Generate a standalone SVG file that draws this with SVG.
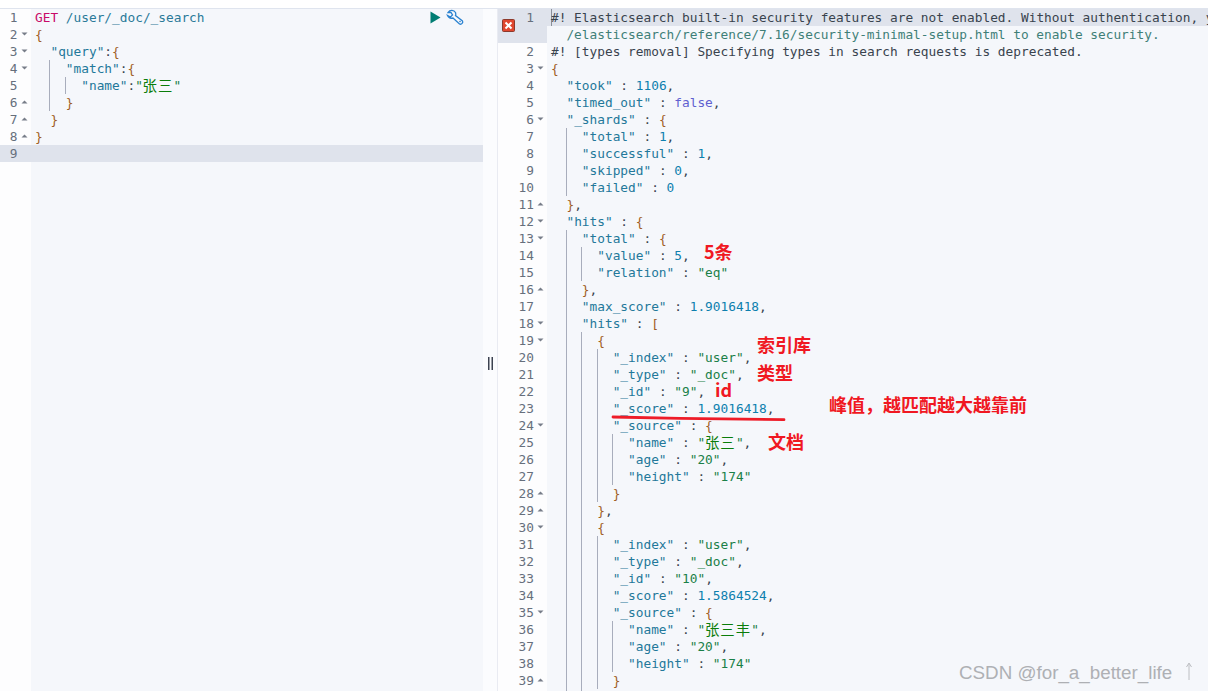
<svg xmlns="http://www.w3.org/2000/svg" width="1208" height="691" viewBox="0 0 1208 691">
<style>
text{white-space:pre}
.c{font-family:"DejaVu Sans Mono","Liberation Mono",monospace;font-size:12.8px;fill:#39434e}
.g{font-family:"DejaVu Sans Mono","Liberation Mono",monospace;font-size:12.8px;fill:#666f7c;text-anchor:end}
.k{fill:#23789a}.s{fill:#1a8048}.n{fill:#0d7fae}.f{fill:#6060d0}.b{fill:#a05e25}.m{fill:#c80a68}.u{fill:#2a7a99}
.z{font-family:"Noto Sans CJK SC",sans-serif;letter-spacing:1px;fill:#0a7d0a;font-size:14.4px}
.i{stroke:#a8adbc;stroke-width:1;fill:none}
.a{font-family:"Noto Sans CJK SC","Liberation Sans",sans-serif;font-weight:700;fill:#f01822;font-size:18px}
.w{font-family:"Liberation Sans",Arial,sans-serif;font-size:18.800px;fill:#aeb0b4}
</style>
<defs>
<path id="dn" d="M-3-1.500H3L0 1.500Z" fill="#777d88"/>
<path id="up" d="M-3 1.500H3L0-1.500Z" fill="#777d88"/>
</defs>
<rect width="1208" height="691" fill="#fff"/>
<g id="left-editor">
<rect y="8" width="483" height="683" fill="#f5f7fb"/>
<rect y="8" width="31" height="683" fill="#fdfdfe"/>
<rect x="483" y="8" width="15" height="683" fill="#fbfcfe"/>
<rect x="497" y="8" width="1" height="683" fill="#e9ebf2"/>
<rect y="8" width="1208" height="1" fill="#dfe4ee"/>
<rect y="145" width="483" height="17" fill="#dfe3ec"/>
<g transform="translate(0,0.600)">
<text class="g" x="17.500" y="21">1</text><text class="g" x="17.500" y="38">2</text><text class="g" x="17.500" y="55">3</text><text class="g" x="17.500" y="72">4</text><text class="g" x="17.500" y="89">5</text><text class="g" x="17.500" y="106">6</text><text class="g" x="17.500" y="123">7</text><text class="g" x="17.500" y="140">8</text><text class="g" x="17.500" y="157">9</text>
<text class="c" x="35" y="21"><tspan class="m">GET</tspan> <tspan class="u">/user/_doc/_search</tspan></text>
<text class="c" x="35" y="38"><tspan class="b">{</tspan></text>
<text class="c" x="35" y="55">  <tspan class="k">"query"</tspan>:<tspan class="b">{</tspan></text>
<text class="c" x="35" y="72">    <tspan class="k">"match"</tspan>:<tspan class="b">{</tspan></text>
<text class="c" x="35" y="89">      <tspan class="k">"name"</tspan>:<tspan class="s">"</tspan></text>
<text class="z" x="142.600" y="90">张三</text>
<text class="c" x="173.600" y="89"><tspan class="s">"</tspan></text>
<text class="c" x="35" y="106">    <tspan class="b">}</tspan></text>
<text class="c" x="35" y="123">  <tspan class="b">}</tspan></text>
<text class="c" x="35" y="140"><tspan class="b">}</tspan></text>
</g>
<use href="#dn" x="24.500" y="34"/><use href="#dn" x="24.500" y="51"/><use href="#dn" x="24.500" y="68"/><use href="#up" x="24.500" y="102"/><use href="#up" x="24.500" y="119"/><use href="#up" x="24.500" y="136"/>
<path class="i" d="M49.500 60V111M65.500 77V94"/>
</g>
<g id="toolbar">
<path d="M430.500 11.500L440.500 17.500L430.500 23.500Z" fill="#017d73"/>
<path d="M448 12.500C450 9.500 454 10 455.500 12.500C456 14 455.800 15 455.500 15.500L462.500 21C463.500 22.500 461.500 25 459.500 24L453 18C451 18.500 448.500 17.800 447.500 15.500L450.500 17L452.500 15L451 12.500Z" fill="none" stroke="#2a82d0" stroke-width="1.300"/>
<circle cx="460" cy="21.500" r="0.800" fill="#2a82d0"/>
</g>
<g id="divider">
<rect x="488" y="357" width="1.500" height="13" fill="#3c4250"/>
<rect x="491.500" y="357" width="1.500" height="13" fill="#3c4250"/>
</g>
<g id="right-editor">
<rect x="547" y="9" width="661" height="682" fill="#f5f7fb"/>
<rect x="498" y="9" width="49" height="682" fill="#fdfdfe"/>
<rect x="498" y="9" width="49" height="34" fill="#dfe3ec"/>
<rect x="547" y="9" width="661" height="17" fill="#dfe3ec"/>
<rect x="551" y="9" width="1" height="17" fill="#8a8f99"/>
<g id="error-icon">
<rect x="502.500" y="19.500" width="12" height="12" rx="1" fill="#e0472f" stroke="#8c3a2c"/>
<path d="M505.500 22.500L511.500 28.500M511.500 22.500L505.500 28.500" stroke="#fff" stroke-width="2"/>
</g>
<g id="fold-marks">
<use href="#dn" x="540.500" y="68"/><use href="#dn" x="540.500" y="119"/><use href="#up" x="540.500" y="204"/><use href="#dn" x="540.500" y="221"/><use href="#dn" x="540.500" y="238"/><use href="#up" x="540.500" y="289"/><use href="#dn" x="540.500" y="323"/><use href="#dn" x="540.500" y="340"/><use href="#dn" x="540.500" y="425"/><use href="#up" x="540.500" y="493"/><use href="#up" x="540.500" y="510"/><use href="#dn" x="540.500" y="527"/><use href="#dn" x="540.500" y="612"/><use href="#up" x="540.500" y="680"/>
</g>
<g id="indent-guides">
<path class="i" d="M566.500 128V196M566.500 230V691M581.500 247V281M581.500 332V691M597.500 349V502M597.500 536V689M612.500 434V485M612.500 621V672"/>
</g>
<g id="gutter-numbers" transform="translate(0,0.600)">
<text class="g" x="534" y="21">1</text><text class="g" x="534" y="55">2</text><text class="g" x="534" y="72">3</text><text class="g" x="534" y="89">4</text><text class="g" x="534" y="106">5</text><text class="g" x="534" y="123">6</text><text class="g" x="534" y="140">7</text><text class="g" x="534" y="157">8</text><text class="g" x="534" y="174">9</text><text class="g" x="534" y="191">10</text><text class="g" x="534" y="208">11</text><text class="g" x="534" y="225">12</text><text class="g" x="534" y="242">13</text><text class="g" x="534" y="259">14</text><text class="g" x="534" y="276">15</text><text class="g" x="534" y="293">16</text><text class="g" x="534" y="310">17</text><text class="g" x="534" y="327">18</text><text class="g" x="534" y="344">19</text><text class="g" x="534" y="361">20</text><text class="g" x="534" y="378">21</text><text class="g" x="534" y="395">22</text><text class="g" x="534" y="412">23</text><text class="g" x="534" y="429">24</text><text class="g" x="534" y="446">25</text><text class="g" x="534" y="463">26</text><text class="g" x="534" y="480">27</text><text class="g" x="534" y="497">28</text><text class="g" x="534" y="514">29</text><text class="g" x="534" y="531">30</text><text class="g" x="534" y="548">31</text><text class="g" x="534" y="565">32</text><text class="g" x="534" y="582">33</text><text class="g" x="534" y="599">34</text><text class="g" x="534" y="616">35</text><text class="g" x="534" y="633">36</text><text class="g" x="534" y="650">37</text><text class="g" x="534" y="667">38</text><text class="g" x="534" y="684">39</text>
</g>
<g id="response" transform="translate(0,0.600)">
<text class="c" x="551" y="21">#! Elasticsearch built-in security features are not enabled. Without authentication, y</text>
<text class="c" x="566.400" y="38" style="fill:#3f7f78">/elasticsearch/reference/7.16/security-minimal-setup.html to enable security.</text>
<text class="c" x="551" y="55">#! [types removal] Specifying types in search requests is deprecated.</text>
<text class="c" x="551" y="72"><tspan class="b">{</tspan></text>
<text class="c" x="551" y="89">  <tspan class="k">"took"</tspan> : <tspan class="n">1106</tspan>,</text>
<text class="c" x="551" y="106">  <tspan class="k">"timed_out"</tspan> : <tspan class="f">false</tspan>,</text>
<text class="c" x="551" y="123">  <tspan class="k">"_shards"</tspan> : <tspan class="b">{</tspan></text>
<text class="c" x="551" y="140">    <tspan class="k">"total"</tspan> : <tspan class="n">1</tspan>,</text>
<text class="c" x="551" y="157">    <tspan class="k">"successful"</tspan> : <tspan class="n">1</tspan>,</text>
<text class="c" x="551" y="174">    <tspan class="k">"skipped"</tspan> : <tspan class="n">0</tspan>,</text>
<text class="c" x="551" y="191">    <tspan class="k">"failed"</tspan> : <tspan class="n">0</tspan></text>
<text class="c" x="551" y="208">  <tspan class="b">}</tspan>,</text>
<text class="c" x="551" y="225">  <tspan class="k">"hits"</tspan> : <tspan class="b">{</tspan></text>
<text class="c" x="551" y="242">    <tspan class="k">"total"</tspan> : <tspan class="b">{</tspan></text>
<text class="c" x="551" y="259">      <tspan class="k">"value"</tspan> : <tspan class="n">5</tspan>,</text>
<text class="c" x="551" y="276">      <tspan class="k">"relation"</tspan> : <tspan class="s">"eq"</tspan></text>
<text class="c" x="551" y="293">    <tspan class="b">}</tspan>,</text>
<text class="c" x="551" y="310">    <tspan class="k">"max_score"</tspan> : <tspan class="n">1.9016418</tspan>,</text>
<text class="c" x="551" y="327">    <tspan class="k">"hits"</tspan> : <tspan class="b">[</tspan></text>
<text class="c" x="551" y="344">      <tspan class="b">{</tspan></text>
<text class="c" x="551" y="361">        <tspan class="k">"_index"</tspan> : <tspan class="s">"user"</tspan>,</text>
<text class="c" x="551" y="378">        <tspan class="k">"_type"</tspan> : <tspan class="s">"_doc"</tspan>,</text>
<text class="c" x="551" y="395">        <tspan class="k">"_id"</tspan> : <tspan class="s">"9"</tspan>,</text>
<text class="c" x="551" y="412">        <tspan class="k">"_score"</tspan> : <tspan class="n">1.9016418</tspan>,</text>
<text class="c" x="551" y="429">        <tspan class="k">"_source"</tspan> : <tspan class="b">{</tspan></text>
<text class="c" x="551" y="446">          <tspan class="k">"name"</tspan> : <tspan class="s">"</tspan></text>
<text class="z" x="704.900" y="447">张三</text>
<text class="c" x="735.900" y="446"><tspan class="s">"</tspan>,</text>
<text class="c" x="551" y="463">          <tspan class="k">"age"</tspan> : <tspan class="s">"20"</tspan>,</text>
<text class="c" x="551" y="480">          <tspan class="k">"height"</tspan> : <tspan class="s">"174"</tspan></text>
<text class="c" x="551" y="497">        <tspan class="b">}</tspan></text>
<text class="c" x="551" y="514">      <tspan class="b">}</tspan>,</text>
<text class="c" x="551" y="531">      <tspan class="b">{</tspan></text>
<text class="c" x="551" y="548">        <tspan class="k">"_index"</tspan> : <tspan class="s">"user"</tspan>,</text>
<text class="c" x="551" y="565">        <tspan class="k">"_type"</tspan> : <tspan class="s">"_doc"</tspan>,</text>
<text class="c" x="551" y="582">        <tspan class="k">"_id"</tspan> : <tspan class="s">"10"</tspan>,</text>
<text class="c" x="551" y="599">        <tspan class="k">"_score"</tspan> : <tspan class="n">1.5864524</tspan>,</text>
<text class="c" x="551" y="616">        <tspan class="k">"_source"</tspan> : <tspan class="b">{</tspan></text>
<text class="c" x="551" y="633">          <tspan class="k">"name"</tspan> : <tspan class="s">"</tspan></text>
<text class="z" x="704.900" y="634">张三丰</text>
<text class="c" x="751.300" y="633"><tspan class="s">"</tspan>,</text>
<text class="c" x="551" y="650">          <tspan class="k">"age"</tspan> : <tspan class="s">"20"</tspan>,</text>
<text class="c" x="551" y="667">          <tspan class="k">"height"</tspan> : <tspan class="s">"174"</tspan></text>
<text class="c" x="551" y="684">        <tspan class="b">}</tspan></text>
</g>
</g>
<g id="annotations">
<path d="M613 417L680 418.300L784 419.700" fill="none" stroke="#ee1c28" stroke-width="2.800" stroke-linecap="round"/>
<text class="a" x="704" y="259">5条</text>
<text class="a" x="757" y="352">索引库</text>
<text class="a" x="757" y="380">类型</text>
<text class="a" x="715" y="397">id</text>
<text class="a" x="829" y="412">峰值，越匹配越大越靠前</text>
<text class="a" x="768" y="449">文档</text>
</g>
<g id="watermark">
<text class="w" x="959" y="679">CSDN @for_a_better_life</text>
<path d="M1189 664V680M1186.500 667L1189 663L1191.500 667" fill="none" stroke="#bcbec2" stroke-width="1"/>
</g>
</svg>
